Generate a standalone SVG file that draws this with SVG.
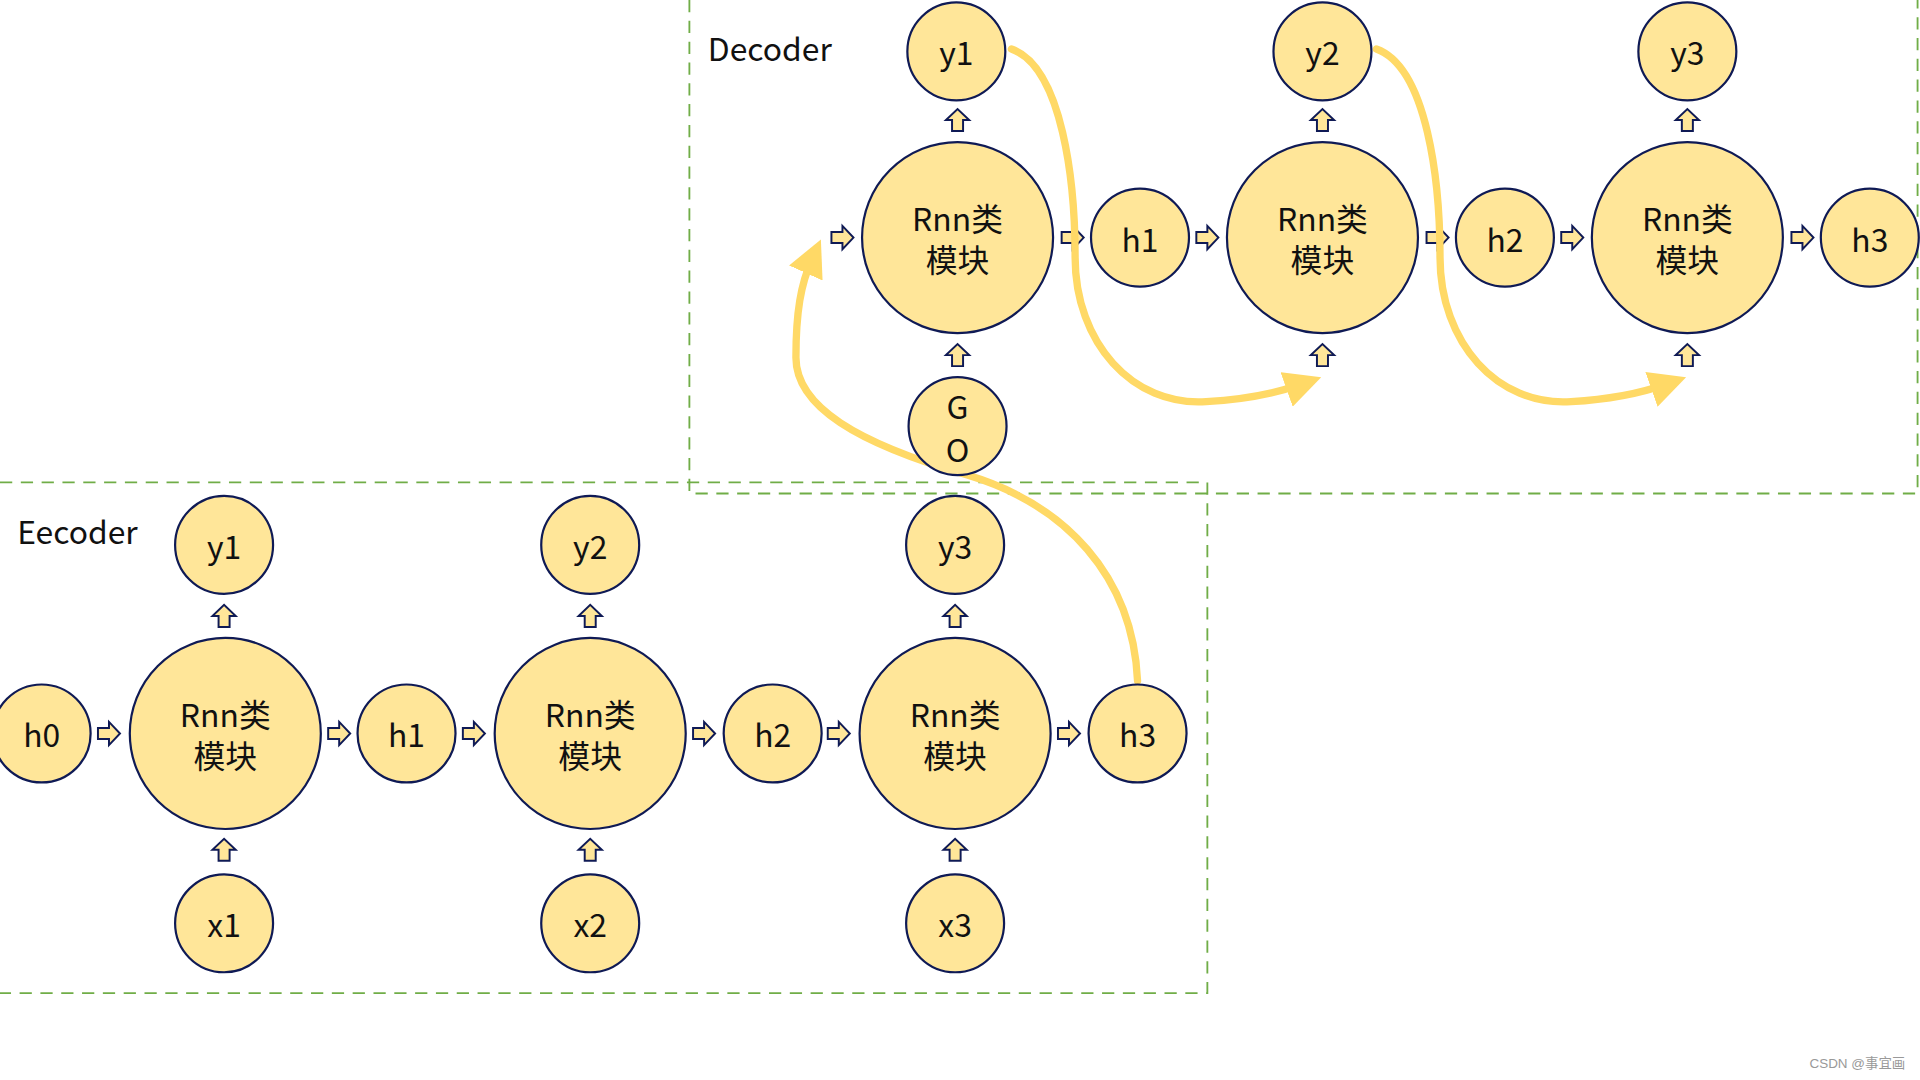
<svg xmlns="http://www.w3.org/2000/svg" xmlns:xlink="http://www.w3.org/1999/xlink" width="1920" height="1080" viewBox="0 0 1920 1080">
<style>
.n{fill:#FFE699;stroke:#0F1A55;stroke-width:1.8}
.t{font-family:"Noto Sans CJK SC","Microsoft YaHei",sans-serif;font-size:26px;fill:#111;text-anchor:middle;dominant-baseline:central}
.lbl{font-family:"Noto Sans CJK SC",sans-serif;font-size:26px;fill:#111}
.box{fill:none;stroke:#70AD47;stroke-width:1.5;stroke-dasharray:10 7}
.ba{fill:#FFE699;stroke:#0F1A55;stroke-width:1.6;stroke-linejoin:miter}
.cv{fill:none;stroke:#FFD966;stroke-width:6;stroke-linecap:round}
</style>
<defs>
<path id="ar" class="ba" d="M-9,-4.5 L0,-4.5 L0,-9.5 L9,0 L0,9.5 L0,4.5 L-9,4.5 Z"/>
<marker id="hd" markerWidth="5" markerHeight="5" refX="2" refY="2.5" orient="auto" markerUnits="strokeWidth"><path d="M0,0 L5,2.5 L0,5 Z" fill="#FFD966"/></marker>
</defs>
<rect width="1920" height="1080" fill="#fff"/>
<g transform="scale(1.2245)">
<g id="frames">
<path class="box" d="M563,0 V403 H1566 V0"/>
<path class="box" d="M0,394 H986 V811 H0"/>
<text class="lbl" x="578" y="50">Decoder</text>
<text class="lbl" x="14" y="444">Eecoder</text>
</g>
<g id="connectors">
<g id="block-arrows">
<use href="#ar" x="89" y="599"/><use href="#ar" x="277" y="599"/><use href="#ar" x="387" y="599"/>
<use href="#ar" x="575" y="599"/><use href="#ar" x="685" y="599"/><use href="#ar" x="873" y="599"/>
<use href="#ar" transform="translate(183,503) rotate(-90)"/><use href="#ar" transform="translate(482,503) rotate(-90)"/><use href="#ar" transform="translate(780,503) rotate(-90)"/>
<use href="#ar" transform="translate(183,694) rotate(-90)"/><use href="#ar" transform="translate(482,694) rotate(-90)"/><use href="#ar" transform="translate(780,694) rotate(-90)"/>
<use href="#ar" x="688" y="194"/><use href="#ar" x="876" y="194"/><use href="#ar" x="986" y="194"/>
<use href="#ar" x="1174" y="194"/><use href="#ar" x="1284" y="194"/><use href="#ar" x="1472" y="194"/>
<use href="#ar" transform="translate(782,98) rotate(-90)"/><use href="#ar" transform="translate(1080,98) rotate(-90)"/><use href="#ar" transform="translate(1378,98) rotate(-90)"/>
<use href="#ar" transform="translate(782,290) rotate(-90)"/><use href="#ar" transform="translate(1080,290) rotate(-90)"/><use href="#ar" transform="translate(1378,290) rotate(-90)"/>
</g>
<path class="cv" marker-end="url(#hd)" d="M929,556 C925,470 870,412 790,388 C700,362 650,332 650,292 C650,255 654,232 663,212"/>
<path class="cv" marker-end="url(#hd)" d="M826,40 C868,55 878,150 878,210 C878,280 925,332 985,328 C1020,326 1045,320 1062,314"/>
<path class="cv" marker-end="url(#hd)" d="M1124,40 C1166,55 1176,150 1176,210 C1176,280 1223,332 1283,328 C1318,326 1343,320 1360,314"/>
</g>
<g id="e-h0"><circle class="n" cx="34" cy="599" r="40"/><text class="t" x="34" y="599">h0</text></g>
<g id="e-rnn1"><circle class="n" cx="184" cy="599" r="78"/><text class="t" x="184" y="582">Rnn类</text><text class="t" x="184" y="616">模块</text></g>
<g id="e-h1"><circle class="n" cx="332" cy="599" r="40"/><text class="t" x="332" y="599">h1</text></g>
<g id="e-rnn2"><circle class="n" cx="482" cy="599" r="78"/><text class="t" x="482" y="582">Rnn类</text><text class="t" x="482" y="616">模块</text></g>
<g id="e-h2"><circle class="n" cx="631" cy="599" r="40"/><text class="t" x="631" y="599">h2</text></g>
<g id="e-rnn3"><circle class="n" cx="780" cy="599" r="78"/><text class="t" x="780" y="582">Rnn类</text><text class="t" x="780" y="616">模块</text></g>
<g id="e-h3"><circle class="n" cx="929" cy="599" r="40"/><text class="t" x="929" y="599">h3</text></g>
<g id="e-y1"><circle class="n" cx="183" cy="445" r="40"/><text class="t" x="183" y="445">y1</text></g>
<g id="e-y2"><circle class="n" cx="482" cy="445" r="40"/><text class="t" x="482" y="445">y2</text></g>
<g id="e-y3"><circle class="n" cx="780" cy="445" r="40"/><text class="t" x="780" y="445">y3</text></g>
<g id="e-x1"><circle class="n" cx="183" cy="754" r="40"/><text class="t" x="183" y="754">x1</text></g>
<g id="e-x2"><circle class="n" cx="482" cy="754" r="40"/><text class="t" x="482" y="754">x2</text></g>
<g id="e-x3"><circle class="n" cx="780" cy="754" r="40"/><text class="t" x="780" y="754">x3</text></g>
<g id="d-rnn1"><circle class="n" cx="782" cy="194" r="78"/><text class="t" x="782" y="177">Rnn类</text><text class="t" x="782" y="211">模块</text></g>
<g id="d-h1"><circle class="n" cx="931" cy="194" r="40"/><text class="t" x="931" y="194">h1</text></g>
<g id="d-rnn2"><circle class="n" cx="1080" cy="194" r="78"/><text class="t" x="1080" y="177">Rnn类</text><text class="t" x="1080" y="211">模块</text></g>
<g id="d-h2"><circle class="n" cx="1229" cy="194" r="40"/><text class="t" x="1229" y="194">h2</text></g>
<g id="d-rnn3"><circle class="n" cx="1378" cy="194" r="78"/><text class="t" x="1378" y="177">Rnn类</text><text class="t" x="1378" y="211">模块</text></g>
<g id="d-h3"><circle class="n" cx="1527" cy="194" r="40"/><text class="t" x="1527" y="194">h3</text></g>
<g id="d-y1"><circle class="n" cx="781" cy="42" r="40"/><text class="t" x="781" y="42">y1</text></g>
<g id="d-y2"><circle class="n" cx="1080" cy="42" r="40"/><text class="t" x="1080" y="42">y2</text></g>
<g id="d-y3"><circle class="n" cx="1378" cy="42" r="40"/><text class="t" x="1378" y="42">y3</text></g>
<g id="d-go"><circle class="n" cx="782" cy="348" r="40"/><text class="t" x="782" y="331">G</text><text class="t" x="782" y="366">O</text></g>
<text x="1556" y="872" font-family="Liberation Sans,sans-serif" font-size="11" fill="#999" text-anchor="end">CSDN @<tspan font-family="Noto Sans CJK SC,sans-serif">事宜画</tspan></text>
</g>
</svg>
